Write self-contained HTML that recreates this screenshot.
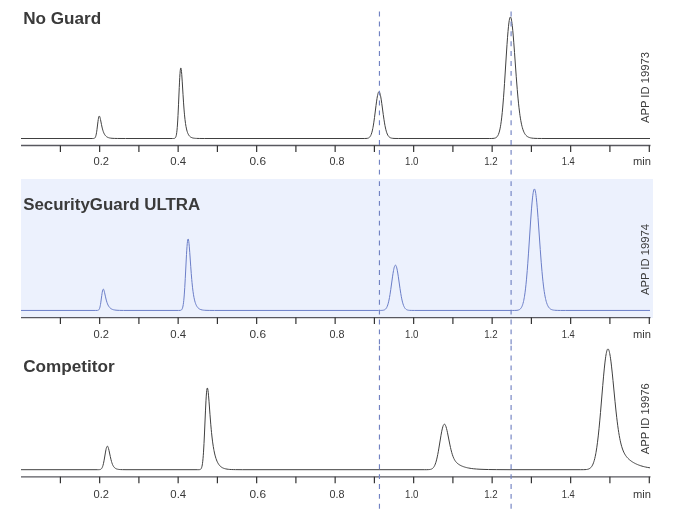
<!DOCTYPE html>
<html><head><meta charset="utf-8"><style>
html,body{margin:0;padding:0;background:#fff;}
body{width:682px;height:512px;overflow:hidden;}
svg{display:block;will-change:transform;}
.title{font-family:"Liberation Sans",sans-serif;font-weight:bold;font-size:16px;fill:#3a3a3a;}
.lab{font-family:"Liberation Sans",sans-serif;font-size:11.5px;fill:#383838;}
.app{font-family:"Liberation Sans",sans-serif;font-size:11px;fill:#3a3a3a;}
</style></head><body>
<svg width="682" height="512" viewBox="0 0 682 512">
<rect x="21" y="179" width="632" height="139" fill="#ecf1fd"/>
<path d="M21.00,138.50 L92.25,138.50 L93.50,138.47 L94.00,138.40 L94.25,138.33 L94.50,138.21 L94.75,138.04 L95.00,137.78 L95.25,137.41 L95.50,136.89 L95.75,136.19 L96.00,135.28 L96.25,134.14 L96.50,132.76 L96.75,131.14 L97.00,129.32 L98.00,121.31 L98.25,119.58 L98.50,118.13 L98.75,117.05 L99.00,116.35 L99.25,116.07 L99.50,116.18 L99.75,116.64 L100.00,117.40 L100.25,118.39 L100.50,119.55 L101.50,124.69 L102.00,127.04 L102.25,128.10 L102.50,129.07 L103.00,130.78 L103.25,131.51 L103.75,132.79 L104.25,133.83 L104.75,134.68 L105.25,135.38 L105.75,135.95 L106.25,136.41 L106.50,136.61 L107.00,136.96 L107.75,137.36 L108.25,137.57 L108.75,137.74 L109.50,137.94 L110.25,138.08 L111.00,138.19 L112.00,138.29 L114.25,138.42 L117.75,138.48 L125.50,138.50 L172.50,138.50 L173.50,138.49 L174.00,138.46 L174.50,138.36 L174.75,138.27 L175.00,138.13 L175.25,137.91 L175.50,137.57 L175.75,137.08 L176.00,136.39 L176.25,135.42 L176.50,134.11 L176.75,132.38 L177.00,130.16 L177.25,127.38 L177.50,124.01 L177.75,120.02 L178.00,115.43 L178.50,104.79 L179.25,87.44 L179.50,82.12 L179.75,77.42 L180.00,73.52 L180.25,70.58 L180.50,68.70 L180.75,67.93 L181.00,68.22 L181.25,69.52 L181.50,71.69 L181.75,74.59 L182.25,81.91 L183.00,94.30 L183.50,102.13 L184.00,109.03 L184.25,112.08 L184.50,114.84 L185.00,119.61 L185.50,123.45 L186.00,126.53 L186.50,128.98 L186.75,130.01 L187.25,131.75 L187.50,132.48 L188.00,133.71 L188.25,134.23 L188.75,135.11 L189.00,135.48 L189.50,136.10 L190.00,136.59 L190.50,136.98 L191.00,137.29 L191.75,137.64 L192.25,137.82 L193.00,138.02 L193.75,138.16 L194.50,138.26 L195.50,138.35 L196.50,138.40 L199.25,138.47 L204.25,138.50 L363.00,138.50 L364.75,138.49 L366.00,138.45 L367.00,138.37 L367.75,138.23 L368.25,138.07 L368.50,137.97 L369.00,137.69 L369.25,137.50 L369.75,137.03 L370.00,136.72 L370.25,136.37 L370.50,135.96 L370.75,135.48 L371.00,134.94 L371.25,134.31 L371.75,132.82 L372.25,130.95 L372.75,128.67 L373.00,127.37 L373.25,125.97 L373.75,122.86 L374.50,117.52 L376.00,105.65 L376.50,101.88 L377.00,98.49 L377.25,96.99 L377.50,95.65 L377.75,94.49 L378.00,93.52 L378.25,92.75 L378.50,92.19 L378.75,91.86 L379.00,91.75 L379.25,91.87 L379.50,92.20 L379.75,92.75 L380.00,93.51 L380.25,94.47 L380.50,95.60 L380.75,96.89 L381.25,99.90 L381.75,103.33 L383.25,114.50 L384.00,119.75 L384.50,122.89 L385.00,125.70 L385.25,126.96 L385.75,129.23 L386.25,131.15 L386.75,132.74 L387.25,134.03 L387.75,135.07 L388.25,135.89 L388.50,136.23 L389.00,136.79 L389.25,137.03 L389.75,137.40 L390.00,137.56 L390.50,137.80 L391.00,137.99 L391.50,138.12 L392.25,138.26 L393.00,138.35 L394.00,138.42 L395.00,138.46 L398.25,138.49 L489.75,138.50 L491.75,138.47 L493.00,138.42 L494.00,138.31 L494.75,138.16 L495.50,137.90 L496.00,137.64 L496.50,137.28 L497.00,136.80 L497.50,136.16 L497.75,135.76 L498.25,134.80 L498.50,134.21 L499.00,132.82 L499.25,131.99 L499.75,130.02 L500.00,128.88 L500.50,126.22 L500.75,124.69 L501.25,121.21 L501.75,117.12 L502.25,112.39 L502.75,107.02 L503.50,97.79 L504.00,90.91 L504.50,83.57 L506.25,56.01 L507.00,44.65 L507.50,37.71 L508.00,31.53 L508.50,26.27 L508.75,24.04 L509.00,22.09 L509.25,20.44 L509.50,19.11 L509.75,18.10 L510.00,17.41 L510.25,17.06 L510.50,17.03 L510.75,17.33 L511.00,17.95 L511.25,18.88 L511.50,20.12 L511.75,21.65 L512.00,23.45 L512.25,25.51 L512.75,30.34 L513.25,35.96 L513.75,42.21 L514.50,52.35 L516.25,76.77 L517.25,89.55 L518.00,98.06 L518.50,103.16 L519.00,107.78 L519.75,113.82 L520.00,115.61 L520.50,118.86 L520.75,120.33 L521.25,122.99 L521.50,124.19 L522.00,126.33 L522.25,127.29 L522.75,129.00 L523.00,129.76 L523.50,131.12 L524.00,132.27 L524.50,133.25 L525.00,134.07 L525.50,134.77 L526.00,135.36 L526.75,136.08 L527.50,136.64 L528.00,136.93 L528.50,137.18 L529.00,137.39 L529.50,137.57 L530.50,137.84 L531.75,138.08 L533.25,138.25 L535.00,138.36 L537.50,138.44 L541.25,138.48 L548.00,138.50 L650.00,138.50" fill="none" stroke="#404040" stroke-width="1.0" stroke-linejoin="round"/>
<line x1="21" y1="145.5" x2="650.5" y2="145.5" stroke="#58585f" stroke-width="1.3"/>
<line x1="60.40" y1="145.5" x2="60.40" y2="151.9" stroke="#333333" stroke-width="1.2"/>
<line x1="99.65" y1="145.5" x2="99.65" y2="151.9" stroke="#333333" stroke-width="1.2"/>
<line x1="138.90" y1="145.5" x2="138.90" y2="151.9" stroke="#333333" stroke-width="1.2"/>
<line x1="178.15" y1="145.5" x2="178.15" y2="151.9" stroke="#333333" stroke-width="1.2"/>
<line x1="217.40" y1="145.5" x2="217.40" y2="151.9" stroke="#333333" stroke-width="1.2"/>
<line x1="256.65" y1="145.5" x2="256.65" y2="151.9" stroke="#333333" stroke-width="1.2"/>
<line x1="295.90" y1="145.5" x2="295.90" y2="151.9" stroke="#333333" stroke-width="1.2"/>
<line x1="335.15" y1="145.5" x2="335.15" y2="151.9" stroke="#333333" stroke-width="1.2"/>
<line x1="374.40" y1="145.5" x2="374.40" y2="151.9" stroke="#333333" stroke-width="1.2"/>
<line x1="413.65" y1="145.5" x2="413.65" y2="151.9" stroke="#333333" stroke-width="1.2"/>
<line x1="452.90" y1="145.5" x2="452.90" y2="151.9" stroke="#333333" stroke-width="1.2"/>
<line x1="492.15" y1="145.5" x2="492.15" y2="151.9" stroke="#333333" stroke-width="1.2"/>
<line x1="531.40" y1="145.5" x2="531.40" y2="151.9" stroke="#333333" stroke-width="1.2"/>
<line x1="570.65" y1="145.5" x2="570.65" y2="151.9" stroke="#333333" stroke-width="1.2"/>
<line x1="609.90" y1="145.5" x2="609.90" y2="151.9" stroke="#333333" stroke-width="1.2"/>
<line x1="649.30" y1="145.5" x2="649.30" y2="151.9" stroke="#333333" stroke-width="1.2"/>
<text x="93.50" y="165.0" class="lab" textLength="15.50" lengthAdjust="spacingAndGlyphs">0.2</text>
<text x="170.30" y="165.0" class="lab" textLength="15.85" lengthAdjust="spacingAndGlyphs">0.4</text>
<text x="249.50" y="165.0" class="lab" textLength="16.50" lengthAdjust="spacingAndGlyphs">0.6</text>
<text x="329.50" y="165.0" class="lab" textLength="15.00" lengthAdjust="spacingAndGlyphs">0.8</text>
<text x="405.00" y="165.0" class="lab" textLength="13.50" lengthAdjust="spacingAndGlyphs">1.0</text>
<text x="484.20" y="165.0" class="lab" textLength="13.55" lengthAdjust="spacingAndGlyphs">1.2</text>
<text x="561.80" y="165.0" class="lab" textLength="13.00" lengthAdjust="spacingAndGlyphs">1.4</text>
<text x="633.00" y="165.0" class="lab" textLength="18.00" lengthAdjust="spacingAndGlyphs">min</text>
<text x="23.2" y="23.8" class="title" textLength="78" lengthAdjust="spacingAndGlyphs">No Guard</text>
<text x="0" y="0" class="app" transform="translate(649,123.1) rotate(-90)" textLength="71" lengthAdjust="spacingAndGlyphs">APP ID 19973</text>
<path d="M21.00,310.45 L95.75,310.45 L97.25,310.42 L97.75,310.37 L98.00,310.31 L98.25,310.22 L98.50,310.08 L98.75,309.87 L99.00,309.57 L99.25,309.15 L99.50,308.59 L99.75,307.85 L100.00,306.91 L100.25,305.76 L100.50,304.39 L100.75,302.82 L101.75,295.49 L102.00,293.75 L102.25,292.21 L102.50,290.94 L102.75,289.99 L103.00,289.39 L103.25,289.16 L103.50,289.26 L103.75,289.67 L104.00,290.35 L104.25,291.22 L104.50,292.25 L105.50,296.86 L106.00,299.01 L106.25,299.99 L106.50,300.90 L107.00,302.51 L107.50,303.85 L108.00,304.97 L108.50,305.90 L109.00,306.68 L109.50,307.32 L109.75,307.60 L110.25,308.08 L111.00,308.66 L111.75,309.10 L112.50,309.43 L113.50,309.75 L114.25,309.92 L115.00,310.05 L116.00,310.17 L117.00,310.26 L119.50,310.38 L123.50,310.43 L178.50,310.45 L180.00,310.41 L180.50,310.34 L181.00,310.19 L181.25,310.05 L181.50,309.86 L181.75,309.59 L182.00,309.22 L182.25,308.71 L182.50,308.03 L182.75,307.14 L183.00,306.00 L183.25,304.55 L183.50,302.76 L183.75,300.59 L184.00,297.99 L184.25,294.96 L184.75,287.58 L185.25,278.67 L186.50,254.37 L186.75,250.19 L187.00,246.55 L187.25,243.54 L187.50,241.27 L187.75,239.76 L188.00,239.06 L188.25,239.14 L188.50,239.97 L188.75,241.48 L189.00,243.59 L189.25,246.19 L189.75,252.50 L190.75,266.74 L191.25,273.51 L191.75,279.60 L192.00,282.35 L192.50,287.23 L193.00,291.34 L193.50,294.76 L194.00,297.58 L194.50,299.90 L194.75,300.90 L195.25,302.62 L195.50,303.37 L196.00,304.65 L196.50,305.69 L197.00,306.55 L197.50,307.26 L198.00,307.83 L198.50,308.31 L199.00,308.69 L199.50,309.01 L200.25,309.38 L201.00,309.66 L202.00,309.92 L202.75,310.06 L203.75,310.19 L204.75,310.27 L206.00,310.34 L209.25,310.42 L214.50,310.45 L378.50,310.45 L380.50,310.44 L381.75,310.40 L382.75,310.31 L383.50,310.18 L384.25,309.95 L384.75,309.70 L385.00,309.54 L385.50,309.14 L385.75,308.88 L386.25,308.24 L386.75,307.40 L387.25,306.31 L387.75,304.93 L388.25,303.23 L388.75,301.19 L389.00,300.03 L389.50,297.44 L390.00,294.50 L390.75,289.53 L392.50,276.87 L393.00,273.54 L393.50,270.60 L393.75,269.33 L394.00,268.20 L394.25,267.23 L394.50,266.44 L394.75,265.83 L395.00,265.41 L395.25,265.19 L395.50,265.16 L395.75,265.34 L396.00,265.71 L396.25,266.27 L396.50,267.01 L396.75,267.92 L397.00,269.00 L397.25,270.22 L397.75,273.03 L398.25,276.23 L400.00,288.49 L400.75,293.36 L401.25,296.27 L401.75,298.87 L402.00,300.04 L402.50,302.13 L403.00,303.90 L403.50,305.36 L404.00,306.55 L404.50,307.50 L405.00,308.25 L405.25,308.56 L405.75,309.06 L406.00,309.26 L406.50,309.59 L406.75,309.73 L407.25,309.93 L407.75,310.09 L408.25,310.20 L408.75,310.27 L409.50,310.35 L411.25,310.42 L414.25,310.45 L512.75,310.45 L514.75,310.43 L516.00,310.39 L517.00,310.31 L518.00,310.14 L518.75,309.92 L519.25,309.70 L519.50,309.56 L520.00,309.22 L520.50,308.76 L521.00,308.15 L521.50,307.36 L522.00,306.34 L522.25,305.74 L522.75,304.31 L523.00,303.46 L523.50,301.49 L523.75,300.35 L524.25,297.72 L524.50,296.22 L525.00,292.82 L525.50,288.86 L526.00,284.31 L526.50,279.16 L527.25,270.35 L527.75,263.79 L528.50,253.13 L530.75,219.06 L531.50,208.88 L532.00,202.96 L532.50,197.92 L532.75,195.77 L533.00,193.90 L533.25,192.32 L533.50,191.04 L533.75,190.06 L534.00,189.40 L534.25,189.05 L534.50,189.03 L534.75,189.32 L535.00,189.93 L535.25,190.84 L535.50,192.05 L535.75,193.56 L536.00,195.33 L536.25,197.37 L536.75,202.16 L537.25,207.78 L538.00,217.39 L540.25,249.45 L541.25,262.74 L542.00,271.63 L542.50,276.95 L543.00,281.76 L543.50,286.06 L544.00,289.86 L544.25,291.58 L544.75,294.67 L545.00,296.06 L545.50,298.53 L545.75,299.62 L546.25,301.55 L546.50,302.40 L547.00,303.88 L547.25,304.53 L547.75,305.65 L548.00,306.14 L548.50,306.98 L549.00,307.66 L549.50,308.21 L550.00,308.66 L550.25,308.86 L550.75,309.18 L551.50,309.55 L552.00,309.74 L552.50,309.88 L553.50,310.10 L554.50,310.23 L556.00,310.34 L557.75,310.40 L560.50,310.44 L565.75,310.45 L650.00,310.45" fill="none" stroke="#6b7ec8" stroke-width="1.0" stroke-linejoin="round"/>
<line x1="21" y1="317.6" x2="650.5" y2="317.6" stroke="#58585f" stroke-width="1.3"/>
<line x1="60.40" y1="317.6" x2="60.40" y2="324.0" stroke="#333333" stroke-width="1.2"/>
<line x1="99.65" y1="317.6" x2="99.65" y2="324.0" stroke="#333333" stroke-width="1.2"/>
<line x1="138.90" y1="317.6" x2="138.90" y2="324.0" stroke="#333333" stroke-width="1.2"/>
<line x1="178.15" y1="317.6" x2="178.15" y2="324.0" stroke="#333333" stroke-width="1.2"/>
<line x1="217.40" y1="317.6" x2="217.40" y2="324.0" stroke="#333333" stroke-width="1.2"/>
<line x1="256.65" y1="317.6" x2="256.65" y2="324.0" stroke="#333333" stroke-width="1.2"/>
<line x1="295.90" y1="317.6" x2="295.90" y2="324.0" stroke="#333333" stroke-width="1.2"/>
<line x1="335.15" y1="317.6" x2="335.15" y2="324.0" stroke="#333333" stroke-width="1.2"/>
<line x1="374.40" y1="317.6" x2="374.40" y2="324.0" stroke="#333333" stroke-width="1.2"/>
<line x1="413.65" y1="317.6" x2="413.65" y2="324.0" stroke="#333333" stroke-width="1.2"/>
<line x1="452.90" y1="317.6" x2="452.90" y2="324.0" stroke="#333333" stroke-width="1.2"/>
<line x1="492.15" y1="317.6" x2="492.15" y2="324.0" stroke="#333333" stroke-width="1.2"/>
<line x1="531.40" y1="317.6" x2="531.40" y2="324.0" stroke="#333333" stroke-width="1.2"/>
<line x1="570.65" y1="317.6" x2="570.65" y2="324.0" stroke="#333333" stroke-width="1.2"/>
<line x1="609.90" y1="317.6" x2="609.90" y2="324.0" stroke="#333333" stroke-width="1.2"/>
<line x1="649.30" y1="317.6" x2="649.30" y2="324.0" stroke="#333333" stroke-width="1.2"/>
<text x="93.50" y="338.1" class="lab" textLength="15.50" lengthAdjust="spacingAndGlyphs">0.2</text>
<text x="170.30" y="338.1" class="lab" textLength="15.85" lengthAdjust="spacingAndGlyphs">0.4</text>
<text x="249.50" y="338.1" class="lab" textLength="16.50" lengthAdjust="spacingAndGlyphs">0.6</text>
<text x="329.50" y="338.1" class="lab" textLength="15.00" lengthAdjust="spacingAndGlyphs">0.8</text>
<text x="405.00" y="338.1" class="lab" textLength="13.50" lengthAdjust="spacingAndGlyphs">1.0</text>
<text x="484.20" y="338.1" class="lab" textLength="13.55" lengthAdjust="spacingAndGlyphs">1.2</text>
<text x="561.80" y="338.1" class="lab" textLength="13.00" lengthAdjust="spacingAndGlyphs">1.4</text>
<text x="633.00" y="338.1" class="lab" textLength="18.00" lengthAdjust="spacingAndGlyphs">min</text>
<text x="23.2" y="209.8" class="title" textLength="177" lengthAdjust="spacingAndGlyphs">SecurityGuard ULTRA</text>
<text x="0" y="0" class="app" transform="translate(649,295.05) rotate(-90)" textLength="71" lengthAdjust="spacingAndGlyphs">APP ID 19974</text>
<path d="M21.00,469.70 L97.25,469.70 L98.50,469.69 L99.25,469.65 L99.75,469.59 L100.25,469.48 L100.75,469.28 L101.00,469.12 L101.25,468.92 L101.50,468.66 L101.75,468.34 L102.00,467.93 L102.25,467.44 L102.50,466.85 L102.75,466.14 L103.00,465.32 L103.50,463.31 L104.00,460.84 L104.50,458.00 L105.50,452.04 L106.00,449.46 L106.25,448.40 L106.50,447.53 L106.75,446.86 L107.00,446.42 L107.25,446.22 L107.50,446.24 L107.75,446.49 L108.00,446.95 L108.25,447.60 L108.50,448.41 L109.00,450.42 L110.25,456.35 L111.00,459.64 L111.50,461.52 L111.75,462.36 L112.00,463.12 L112.50,464.45 L113.00,465.53 L113.50,466.40 L114.00,467.09 L114.50,467.64 L115.00,468.08 L115.25,468.26 L115.75,468.56 L116.50,468.91 L117.25,469.14 L117.75,469.26 L118.50,469.39 L119.25,469.49 L120.25,469.57 L122.50,469.65 L126.00,469.69 L197.75,469.70 L198.75,469.69 L199.50,469.65 L200.00,469.56 L200.25,469.47 L200.50,469.34 L200.75,469.15 L201.00,468.88 L201.25,468.49 L201.50,467.96 L201.75,467.22 L202.00,466.24 L202.25,464.97 L202.50,463.33 L202.75,461.28 L203.00,458.76 L203.25,455.73 L203.50,452.18 L204.00,443.48 L204.50,432.99 L205.50,410.10 L206.00,400.18 L206.25,396.13 L206.50,392.84 L206.75,390.38 L207.00,388.79 L207.25,388.06 L207.50,388.15 L207.75,389.01 L208.00,390.53 L208.25,392.63 L208.50,395.19 L209.00,401.26 L210.00,414.75 L210.75,424.19 L211.25,429.78 L211.50,432.34 L212.00,437.01 L212.50,441.12 L212.75,442.98 L213.25,446.34 L213.75,449.29 L214.00,450.61 L214.50,453.02 L215.00,455.12 L215.50,456.96 L216.00,458.56 L216.50,459.97 L217.00,461.19 L217.50,462.27 L218.00,463.20 L218.75,464.39 L219.50,465.36 L220.25,466.16 L221.00,466.80 L221.75,467.33 L222.50,467.77 L223.50,468.22 L224.50,468.57 L225.75,468.89 L227.00,469.12 L228.25,469.29 L229.75,469.43 L231.25,469.52 L233.25,469.59 L235.50,469.64 L242.25,469.69 L424.25,469.70 L426.75,469.69 L428.25,469.64 L429.25,469.57 L430.25,469.43 L430.75,469.31 L431.25,469.15 L431.75,468.93 L432.00,468.79 L432.50,468.45 L432.75,468.25 L433.25,467.75 L433.50,467.45 L434.00,466.74 L434.25,466.32 L434.75,465.33 L435.25,464.14 L435.75,462.72 L436.25,461.04 L436.75,459.11 L437.25,456.92 L437.75,454.48 L438.25,451.81 L438.75,448.94 L441.00,435.25 L441.75,431.21 L442.25,428.90 L442.75,427.00 L443.00,426.21 L443.25,425.55 L443.50,425.01 L443.75,424.60 L444.00,424.33 L444.25,424.18 L444.50,424.17 L444.75,424.29 L445.00,424.54 L445.25,424.91 L445.50,425.41 L445.75,426.01 L446.00,426.73 L446.50,428.44 L447.00,430.47 L447.50,432.76 L449.75,444.08 L450.50,447.58 L451.00,449.72 L451.75,452.59 L452.25,454.27 L453.00,456.45 L453.25,457.09 L453.75,458.25 L454.00,458.78 L454.50,459.73 L455.00,460.56 L455.50,461.28 L456.00,461.92 L456.50,462.48 L457.00,462.98 L457.75,463.63 L458.50,464.20 L459.25,464.69 L460.00,465.13 L460.75,465.52 L461.50,465.88 L462.50,466.30 L463.50,466.68 L464.50,467.01 L465.50,467.31 L466.50,467.57 L467.50,467.81 L468.75,468.06 L471.25,468.48 L473.75,468.79 L476.75,469.06 L480.00,469.26 L484.00,469.42 L488.50,469.54 L496.75,469.64 L509.00,469.69 L580.25,469.70 L583.25,469.68 L585.00,469.62 L586.50,469.49 L587.50,469.33 L588.25,469.13 L589.00,468.85 L589.75,468.45 L590.25,468.09 L590.75,467.65 L591.00,467.38 L591.50,466.78 L592.00,466.04 L592.50,465.14 L593.00,464.07 L593.50,462.79 L594.00,461.28 L594.25,460.43 L594.75,458.53 L595.25,456.34 L595.75,453.82 L596.00,452.44 L596.75,447.77 L597.50,442.26 L598.25,435.93 L599.00,428.79 L599.75,420.91 L600.50,412.44 L602.75,385.49 L603.50,376.88 L604.25,368.96 L605.00,362.04 L605.50,358.11 L605.75,356.38 L606.25,353.43 L606.50,352.22 L606.75,351.19 L607.00,350.34 L607.25,349.69 L607.50,349.24 L607.75,348.97 L608.00,348.90 L608.25,349.03 L608.50,349.34 L608.75,349.84 L609.00,350.53 L609.25,351.40 L609.50,352.44 L609.75,353.64 L610.25,356.53 L610.50,358.20 L611.00,361.92 L611.50,366.10 L612.25,373.06 L613.00,380.57 L615.00,401.29 L616.00,411.02 L616.75,417.74 L617.25,421.88 L617.75,425.75 L618.25,429.32 L618.75,432.59 L619.25,435.58 L619.75,438.30 L620.25,440.75 L620.75,442.96 L621.25,444.94 L621.75,446.72 L622.50,449.03 L623.25,450.99 L623.75,452.13 L624.25,453.15 L624.75,454.07 L625.25,454.90 L625.75,455.66 L626.25,456.35 L626.75,456.99 L627.50,457.86 L628.00,458.38 L628.75,459.11 L629.50,459.78 L630.25,460.39 L631.00,460.95 L631.75,461.48 L632.50,461.97 L633.50,462.58 L634.50,463.14 L635.50,463.65 L636.50,464.12 L637.50,464.56 L638.50,464.96 L639.75,465.42 L640.75,465.75 L642.00,466.13 L643.25,466.48 L644.50,466.79 L645.75,467.07 L647.25,467.37 L650.00,467.84" fill="none" stroke="#404040" stroke-width="1.0" stroke-linejoin="round"/>
<line x1="21" y1="476.85" x2="650.5" y2="476.85" stroke="#58585f" stroke-width="1.3"/>
<line x1="60.40" y1="476.85" x2="60.40" y2="483.25" stroke="#333333" stroke-width="1.2"/>
<line x1="99.65" y1="476.85" x2="99.65" y2="483.25" stroke="#333333" stroke-width="1.2"/>
<line x1="138.90" y1="476.85" x2="138.90" y2="483.25" stroke="#333333" stroke-width="1.2"/>
<line x1="178.15" y1="476.85" x2="178.15" y2="483.25" stroke="#333333" stroke-width="1.2"/>
<line x1="217.40" y1="476.85" x2="217.40" y2="483.25" stroke="#333333" stroke-width="1.2"/>
<line x1="256.65" y1="476.85" x2="256.65" y2="483.25" stroke="#333333" stroke-width="1.2"/>
<line x1="295.90" y1="476.85" x2="295.90" y2="483.25" stroke="#333333" stroke-width="1.2"/>
<line x1="335.15" y1="476.85" x2="335.15" y2="483.25" stroke="#333333" stroke-width="1.2"/>
<line x1="374.40" y1="476.85" x2="374.40" y2="483.25" stroke="#333333" stroke-width="1.2"/>
<line x1="413.65" y1="476.85" x2="413.65" y2="483.25" stroke="#333333" stroke-width="1.2"/>
<line x1="452.90" y1="476.85" x2="452.90" y2="483.25" stroke="#333333" stroke-width="1.2"/>
<line x1="492.15" y1="476.85" x2="492.15" y2="483.25" stroke="#333333" stroke-width="1.2"/>
<line x1="531.40" y1="476.85" x2="531.40" y2="483.25" stroke="#333333" stroke-width="1.2"/>
<line x1="570.65" y1="476.85" x2="570.65" y2="483.25" stroke="#333333" stroke-width="1.2"/>
<line x1="609.90" y1="476.85" x2="609.90" y2="483.25" stroke="#333333" stroke-width="1.2"/>
<line x1="649.30" y1="476.85" x2="649.30" y2="483.25" stroke="#333333" stroke-width="1.2"/>
<text x="93.50" y="498.1" class="lab" textLength="15.50" lengthAdjust="spacingAndGlyphs">0.2</text>
<text x="170.30" y="498.1" class="lab" textLength="15.85" lengthAdjust="spacingAndGlyphs">0.4</text>
<text x="249.50" y="498.1" class="lab" textLength="16.50" lengthAdjust="spacingAndGlyphs">0.6</text>
<text x="329.50" y="498.1" class="lab" textLength="15.00" lengthAdjust="spacingAndGlyphs">0.8</text>
<text x="405.00" y="498.1" class="lab" textLength="13.50" lengthAdjust="spacingAndGlyphs">1.0</text>
<text x="484.20" y="498.1" class="lab" textLength="13.55" lengthAdjust="spacingAndGlyphs">1.2</text>
<text x="561.80" y="498.1" class="lab" textLength="13.00" lengthAdjust="spacingAndGlyphs">1.4</text>
<text x="633.00" y="498.1" class="lab" textLength="18.00" lengthAdjust="spacingAndGlyphs">min</text>
<text x="23.2" y="371.8" class="title" textLength="91.5" lengthAdjust="spacingAndGlyphs">Competitor</text>
<text x="0" y="0" class="app" transform="translate(649,454.3) rotate(-90)" textLength="71" lengthAdjust="spacingAndGlyphs">APP ID 19976</text>
<line x1="379.45" y1="11.6" x2="379.45" y2="179" stroke="#7283c2" stroke-width="1.15" stroke-dasharray="4.9 4.98"/>
<line x1="379.45" y1="181.2" x2="379.45" y2="345" stroke="#7283c2" stroke-width="1.15" stroke-dasharray="4.9 4.98"/>
<line x1="379.45" y1="345.7" x2="379.45" y2="512" stroke="#7283c2" stroke-width="1.15" stroke-dasharray="4.9 4.98"/>
<line x1="511.1" y1="11.6" x2="511.1" y2="179" stroke="#7283c2" stroke-width="1.15" stroke-dasharray="4.9 4.98"/>
<line x1="511.1" y1="181.2" x2="511.1" y2="345" stroke="#7283c2" stroke-width="1.15" stroke-dasharray="4.9 4.98"/>
<line x1="511.1" y1="345.7" x2="511.1" y2="512" stroke="#7283c2" stroke-width="1.15" stroke-dasharray="4.9 4.98"/>
</svg>
</body></html>
